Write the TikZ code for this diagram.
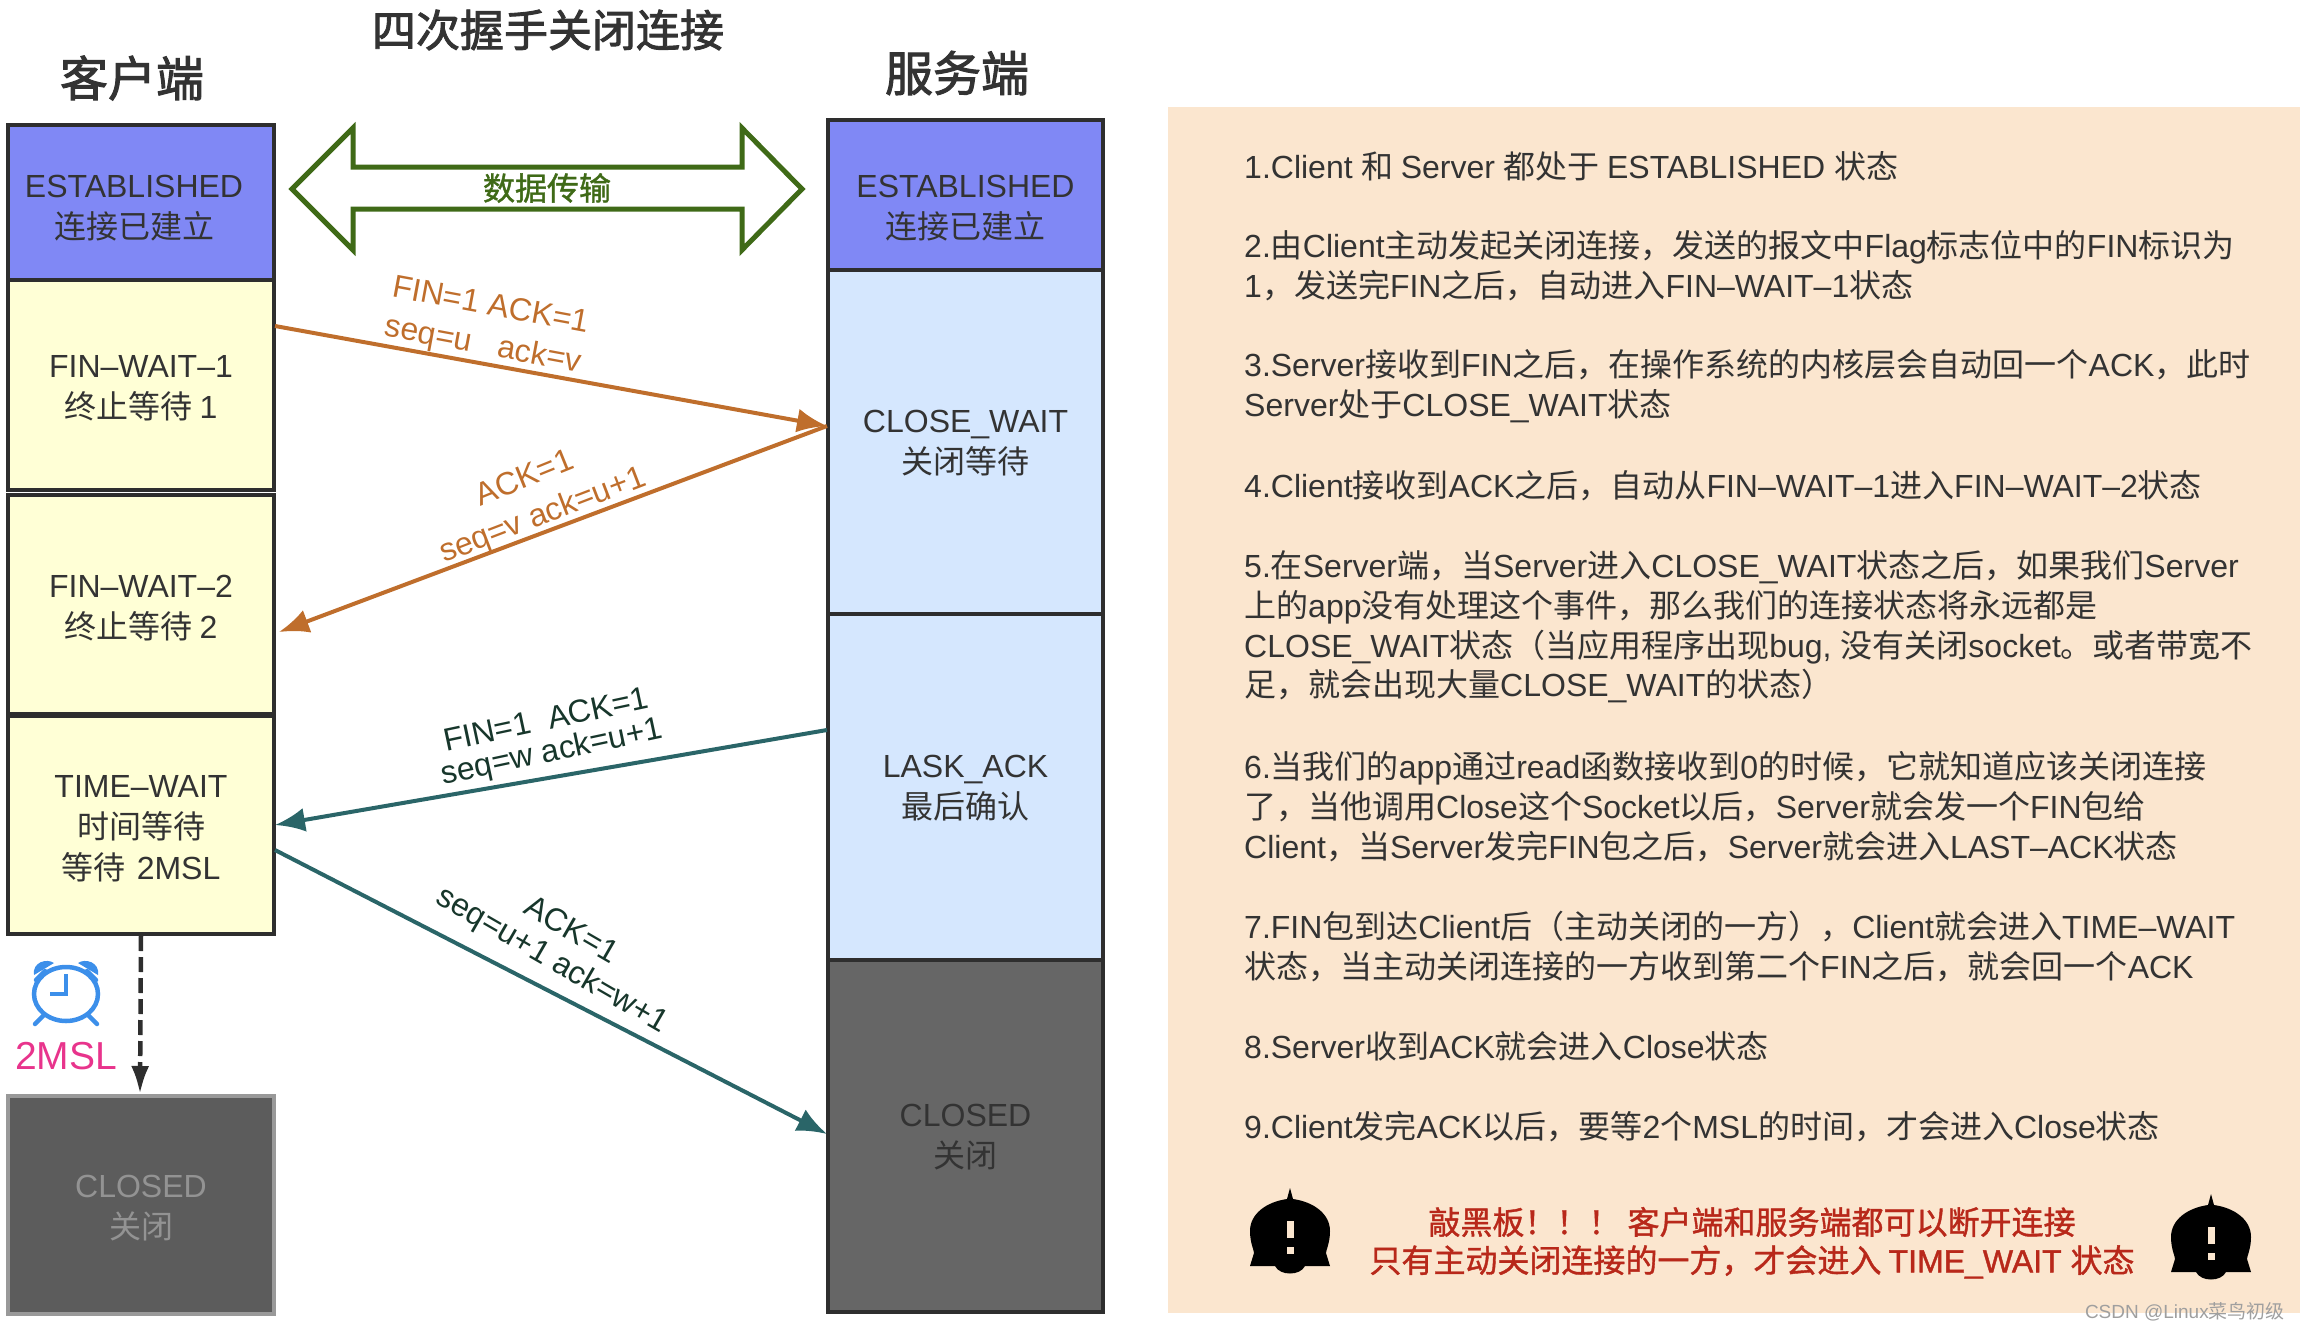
\documentclass[tikz,border=0pt]{standalone}
\usepackage{fontspec}
\usetikzlibrary{arrows.meta}
\setmainfont{Liberation Sans}
\newfontfamily\latn{Liberation Sans}
\newfontfamily\latm[FakeBold=1.2]{Liberation Sans}
\newfontfamily\cjkn{Noto Sans CJK SC}
\newfontfamily\cjkm[FakeBold=1.2]{Noto Sans CJK SC}
\newfontfamily\cjkh[FakeBold=2]{Noto Sans CJK SC}
\newcommand\latsel{\latn}
\newcommand\cjksel{\cjkn}
\newXeTeXintercharclass\cjkclass
\newcount\cc
\cc="4E00 \loop\XeTeXcharclass\cc=\cjkclass\advance\cc 1 \ifnum\cc<"A000 \repeat
\cc="3000 \loop\XeTeXcharclass\cc=\cjkclass\advance\cc 1 \ifnum\cc<"3040 \repeat
\cc="FF00 \loop\XeTeXcharclass\cc=\cjkclass\advance\cc 1 \ifnum\cc<"FFF0 \repeat
\XeTeXinterchartoks 0 \cjkclass={\cjksel}
\XeTeXinterchartoks 4095 \cjkclass={\cjksel}
\XeTeXinterchartoks \cjkclass 0={\latsel}
\XeTeXinterchartoks 4095 0={\latsel}
% full-width punctuation
\newcommand\zc{^^^^ff0c}
\newcommand\zg{^^^^ff01}
\newcommand\zl{^^^^ff08}
\newcommand\zr{^^^^ff09}
\definecolor{estfill}{HTML}{8088F5}
\definecolor{yelfill}{HTML}{FFFFD6}
\definecolor{bluefill}{HTML}{D5E7FE}
\definecolor{darkfill}{HTML}{666666}
\definecolor{closefill}{HTML}{5C5C5C}
\definecolor{boxline}{HTML}{2E2E2E}
\definecolor{boxtext}{HTML}{333333}
\definecolor{panelfill}{HTML}{FBE6CF}
\definecolor{orangeline}{HTML}{BF6E2C}
\definecolor{tealline}{HTML}{2A6568}
\definecolor{tealtext}{HTML}{17362B}
\definecolor{greenline}{HTML}{3F6A17}
\definecolor{redtext}{HTML}{B8281A}
\definecolor{clockblue}{HTML}{3C8FEA}
\definecolor{pinktext}{HTML}{E8348C}
\tikzset{
  stbox/.style={draw=boxline,line width=4pt,inner sep=0pt,align=center,text=boxtext,
    font=\fontsize{32}{41}\selectfont\latn},
  titletext/.style={inner sep=0pt,text=boxtext,font=\fontsize{44}{50}\selectfont\let\cjksel\cjkh\let\latsel\latm\cjkh},
  sidetitle/.style={inner sep=0pt,text=boxtext,font=\fontsize{48}{52}\selectfont\let\cjksel\cjkh\let\latsel\latm\cjkh},
  paratext/.style={inner sep=0pt,anchor=west,align=left,text=boxtext,font=\fontsize{32}{39.7}\selectfont\latn},
  arrowlabel/.style={inner sep=0pt,font=\fontsize{32}{36}\selectfont\latn},
  redline/.style={inner sep=0pt,text=redtext,font=\fontsize{32}{36}\selectfont\let\cjksel\cjkm\let\latsel\latm\latm},
  msgarrow/.style={line width=4pt,-{Latex[length=30pt,width=24pt]}},
  bellicon/.pic={
    \fill[black] (0,0) -- (3,11) .. controls (24,14) and (40,26) .. (40,43)
      .. controls (40,55) and (36,62) .. (36,65) -- (40,78) -- (15,78)
      .. controls (10,88) and (-10,88) .. (-15,78) -- (-40,78) -- (-36,65)
      .. controls (-36,62) and (-40,55) .. (-40,43)
      .. controls (-40,26) and (-24,14) .. (-3,11) -- cycle;
    \fill[panelfill] (-3.5,33) rectangle (3.5,50);
    \fill[panelfill] (-3.5,59) rectangle (3.5,66);
  }
}
\begin{document}
\XeTeXinterchartokenstate=1
\begin{tikzpicture}[x=1pt,y=-1pt]
\useasboundingbox (0,0) rectangle (2300,1330);
% right panel
\fill[panelfill] (1168,107) rectangle (2300,1313);
% titles
\node[titletext] (title) at (548,30) {四次握手关闭连接};
\node[sidetitle] (clienttitle) at (132,78) {客户端};
\node[sidetitle] (servertitle) at (957,73) {服务端};
% client column
\node[stbox,fill=estfill,minimum width=266pt,minimum height=155pt] (cest) at (141,202.5) {};
\node[stbox,draw=none,anchor=center] (cestl) at (134,208.5) {ESTABLISHED\\连接已建立};
\node[stbox,fill=yelfill,minimum width=266pt,minimum height=210pt] (cfw1) at (141,385) {};
\node[stbox,draw=none] (cfw1l) at (141,388.5) {FIN–WAIT–1\\终止等待 1};
\node[stbox,fill=yelfill,minimum width=266pt,minimum height=219pt] (cfw2) at (141,604.5) {};
\node[stbox,draw=none] (cfw2l) at (141,608.5) {FIN–WAIT–2\\终止等待 2};
\node[stbox,fill=yelfill,minimum width=266pt,minimum height=218pt] (ctw) at (141,825) {};
\node[stbox,draw=none] (ctwl) at (141,828.5) {TIME–WAIT\\时间等待\\等待\hspace{4pt} 2MSL};
\node[stbox,fill=closefill,draw=gray!80,minimum width=266pt,minimum height=218pt] (ccl) at (141,1205) {};
\node[stbox,draw=none,text=gray!85] (ccll) at (141,1208.5) {CLOSED\\关闭};
% server column
\node[stbox,fill=estfill,minimum width=275pt,minimum height=150pt] (sest) at (965.5,195) {};
\node[stbox,draw=none] (sestl) at (965.5,208.5) {ESTABLISHED\\连接已建立};
\node[stbox,fill=bluefill,minimum width=275pt,minimum height=344pt] (scw) at (965.5,442) {};
\node[stbox,draw=none] (scwl) at (965.5,443.5) {CLOSE\_WAIT\\关闭等待};
\node[stbox,fill=bluefill,minimum width=275pt,minimum height=346pt] (sla) at (965.5,787) {};
\node[stbox,draw=none] (slal) at (965.5,788.5) {LASK\_ACK\\最后确认};
\node[stbox,fill=darkfill,minimum width=275pt,minimum height=352pt] (scl) at (965.5,1136) {};
\node[stbox,draw=none] (scll) at (965.5,1137.5) {CLOSED\\关闭};
% data transfer double arrow
\draw[greenline,line width=5pt,line join=miter,fill=white]
  (292,189) -- (353,128) -- (353,167) -- (742,167) -- (742,128) -- (802,189)
  -- (742,250) -- (742,209) -- (353,209) -- (353,250) -- cycle;
\node[inner sep=0pt,text=greenline,font=\fontsize{32}{36}\selectfont\let\cjksel\cjkm\cjkm] (data) at (547,188) {数据传输};
% connector end points
\coordinate (a1s) at (275,326);
\coordinate (a1e) at (827,426);
\coordinate (a2e) at (279,632);
\coordinate (a3s) at (827,730);
\coordinate (a3e) at (275,825);
\coordinate (a4s) at (275,850);
\coordinate (a4e) at (827,1134);
\coordinate (dashend) at (140,1094);
% connectors
\draw[msgarrow,orangeline] (a1s) -- (a1e);
\draw[msgarrow,orangeline] (a1e) -- (a2e);
\draw[msgarrow,tealline] (a3s) -- (a3e);
\draw[msgarrow,tealline] (a4s) -- (a4e);
\draw[boxline,line width=4.5pt,dash pattern=on 15pt off 6pt,-{Latex[length=28pt,width=18pt]}] (ctw.south) -- (dashend);
% message labels
\node[arrowlabel,text=orangeline,rotate=-10.5] (l1) at (491,304) {FIN=1 ACK=1};
\node[arrowlabel,text=orangeline,rotate=-10.5] (l2) at (483,346) {seq=u\ \ \ ack=v};
\node[arrowlabel,text=orangeline,rotate=22] (l3) at (524,477) {ACK=1};
\node[arrowlabel,text=orangeline,rotate=21] (l4) at (543,516) {seq=v ack=u+1};
\node[arrowlabel,text=tealtext,rotate=12] (l5) at (546,719) {FIN=1\ \ ACK=1};
\node[arrowlabel,text=tealtext,rotate=12] (l6) at (552,753) {seq=w ack=u+1};
\node[arrowlabel,text=tealtext,rotate=-30] (l7) at (572,929) {ACK=1};
\node[arrowlabel,text=tealtext,rotate=-30] (l8) at (552,961) {seq=u+1 ack=w+1};
% alarm clock
\begin{scope}[clockblue,line width=4.5pt]
\draw (66,994) ellipse [x radius=32pt,y radius=27pt];
\draw (66,974) -- (66,994) -- (50,994);
\draw[line cap=round] (45,971) -- (36,980);
\draw[line cap=round] (87,971) -- (96,980);
\fill (34,975) .. controls (32,962) and (47,958) .. (54,963) -- cycle;
\fill (98,975) .. controls (100,962) and (85,958) .. (78,963) -- cycle;
\draw[line cap=round] (44,1015) -- (35,1024);
\draw[line cap=round] (88,1015) -- (97,1024);
\end{scope}
\node[inner sep=0pt,text=pinktext,font=\fontsize{39}{42}\selectfont\latn] (msl) at (66,1056) {2MSL};
% explanation paragraphs
\node[paratext] (p1) at (1244,166) {1.Client 和 Server 都处于 ESTABLISHED 状态};
\node[paratext] (p2) at (1244,265.5) {2.由Client主动发起关闭连接\zc{}发送的报文中Flag标志位中的FIN标识为\\1\zc{}发送完FIN之后\zc{}自动进入FIN–WAIT–1状态};
\node[paratext] (p3) at (1244,386.5) {3.Server接收到FIN之后\zc{}在操作系统的内核层会自动回一个ACK\zc{}此时\\Server处于CLOSE\_WAIT状态};
\node[paratext] (p4) at (1244,486) {4.Client接收到ACK之后\zc{}自动从FIN–WAIT–1进入FIN–WAIT–2状态};
\node[paratext] (p5) at (1244,627) {5.在Server端\zc{}当Server进入CLOSE\_WAIT状态之后\zc{}如果我们Server\\上的app没有处理这个事件\zc{}那么我们的连接状态将永远都是\\CLOSE\_WAIT状态\zl{}当应用程序出现bug, 没有关闭socket。或者带宽不\\足\zc{}就会出现大量CLOSE\_WAIT的状态\zr{}};
\node[paratext] (p6) at (1244,806.5) {6.当我们的app通过read函数接收到0的时候\zc{}它就知道应该关闭连接\\了\zc{}当他调用Close这个Socket以后\zc{}Server就会发一个FIN包给\\Client\zc{}当Server发完FIN包之后\zc{}Server就会进入LAST–ACK状态};
\node[paratext] (p7) at (1244,946.5) {7.FIN包到达Client后\zl{}主动关闭的一方\zr{}\zc{}Client就会进入TIME–WAIT\\状态\zc{}当主动关闭连接的一方收到第二个FIN之后\zc{}就会回一个ACK};
\node[paratext] (p8) at (1244,1046) {8.Server收到ACK就会进入Close状态};
\node[paratext] (p9) at (1244,1127) {9.Client发完ACK以后\zc{}要等2个MSL的时间\zc{}才会进入Close状态};
% warning
\node[redline] (r1) at (1752,1222) {敲黑板\zg{}\zg{}\zg{} 客户端和服务端都可以断开连接};
\node[redline] (r2) at (1752,1262) {只有主动关闭连接的一方\zc{}才会进入 TIME\_WAIT 状态};
\pic at (1290,1188) {bellicon};
\pic at (2211,1194) {bellicon};
% watermark
\node[inner sep=0pt,anchor=east,text=gray!75,font=\fontsize{19}{26}\selectfont\latn] (wm) at (2285,1312) {CSDN @Linux菜鸟初级};
\end{tikzpicture}
\end{document}
